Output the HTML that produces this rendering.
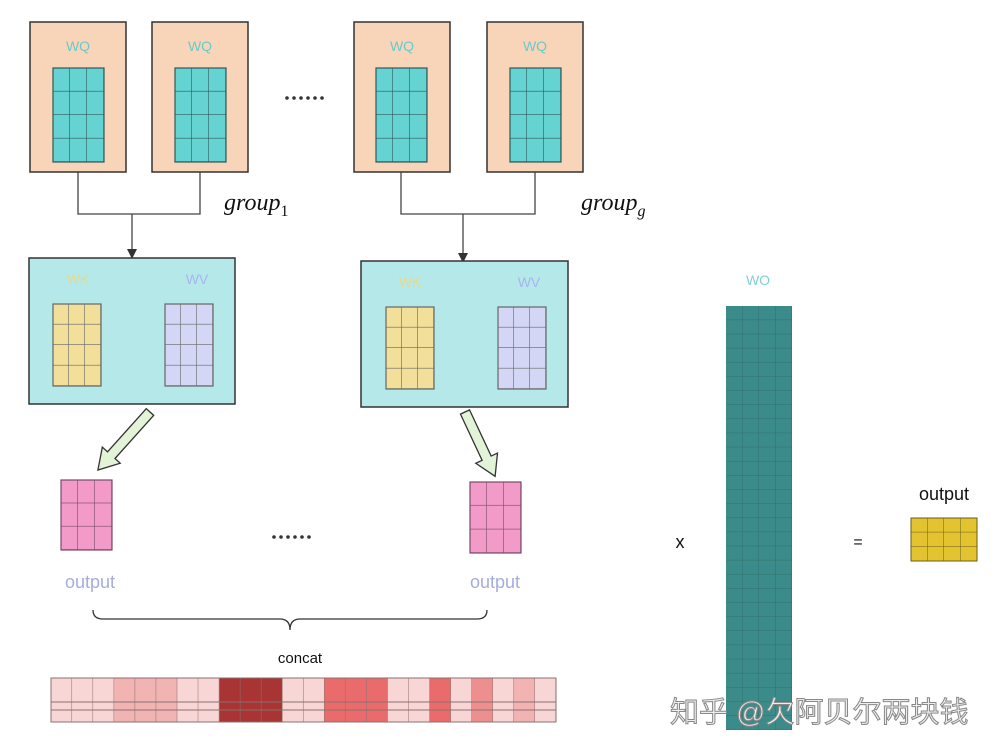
<!DOCTYPE html>
<html><head><meta charset="utf-8"><style>
html,body{margin:0;padding:0;background:#fff;}
svg{display:block;}
text{font-family:"Liberation Sans","Noto Sans CJK SC",sans-serif;}
</style></head><body>
<svg width="998" height="752" viewBox="0 0 998 752" xmlns="http://www.w3.org/2000/svg">
<defs>
<pattern id="pq1" patternUnits="userSpaceOnUse" x="53" y="68" width="17" height="23.5"><path d="M17 0V23.5M0 23.5H17" stroke="#2f5a5a" stroke-width="1.2" fill="none"/></pattern>
<pattern id="pq2" patternUnits="userSpaceOnUse" x="175" y="68" width="17" height="23.5"><path d="M17 0V23.5M0 23.5H17" stroke="#2f5a5a" stroke-width="1.2" fill="none"/></pattern>
<pattern id="pq3" patternUnits="userSpaceOnUse" x="376" y="68" width="17" height="23.5"><path d="M17 0V23.5M0 23.5H17" stroke="#2f5a5a" stroke-width="1.2" fill="none"/></pattern>
<pattern id="pq4" patternUnits="userSpaceOnUse" x="510" y="68" width="17" height="23.5"><path d="M17 0V23.5M0 23.5H17" stroke="#2f5a5a" stroke-width="1.2" fill="none"/></pattern>
<pattern id="pk1" patternUnits="userSpaceOnUse" x="53" y="304" width="16" height="20.5"><path d="M16 0V20.5M0 20.5H16" stroke="#666" stroke-width="1.2" fill="none"/></pattern>
<pattern id="pv1" patternUnits="userSpaceOnUse" x="165" y="304" width="16" height="20.5"><path d="M16 0V20.5M0 20.5H16" stroke="#666" stroke-width="1.2" fill="none"/></pattern>
<pattern id="pk2" patternUnits="userSpaceOnUse" x="386" y="307" width="16" height="20.5"><path d="M16 0V20.5M0 20.5H16" stroke="#666" stroke-width="1.2" fill="none"/></pattern>
<pattern id="pv2" patternUnits="userSpaceOnUse" x="498" y="307" width="16" height="20.5"><path d="M16 0V20.5M0 20.5H16" stroke="#666" stroke-width="1.2" fill="none"/></pattern>
<pattern id="po1" patternUnits="userSpaceOnUse" x="61" y="480" width="17" height="23.3"><path d="M17 0V23.3M0 23.3H17" stroke="#7a4a66" stroke-width="1.2" fill="none"/></pattern>
<pattern id="po2" patternUnits="userSpaceOnUse" x="470" y="482" width="17" height="23.7"><path d="M17 0V23.7M0 23.7H17" stroke="#7a4a66" stroke-width="1.2" fill="none"/></pattern>
<pattern id="pwo" patternUnits="userSpaceOnUse" x="726" y="306" width="16.5" height="14.13"><path d="M16.5 0V14.13M0 14.13H16.5" stroke="#2f6a68" stroke-width="0.8" fill="none"/></pattern>
<pattern id="py" patternUnits="userSpaceOnUse" x="911" y="518" width="16.5" height="14.33"><path d="M16.5 0V14.33M0 14.33H16.5" stroke="#6b5c1a" stroke-width="1" fill="none"/></pattern>
<pattern id="pc" patternUnits="userSpaceOnUse" x="51" y="678" width="21.04" height="44"><path d="M21.04 0V44" stroke="#8a7070" stroke-width="1" fill="none"/></pattern>
</defs>

<g stroke="#333" stroke-width="1.5" fill="#f8d5b8">
<rect x="30" y="22" width="96" height="150"/>
<rect x="152" y="22" width="96" height="150"/>
<rect x="354" y="22" width="96" height="150"/>
<rect x="487" y="22" width="96" height="150"/>
</g>
<g font-size="14" fill="#6cc9c9" text-anchor="middle">
<text x="78" y="51">WQ</text><text x="200" y="51">WQ</text><text x="402" y="51">WQ</text><text x="535" y="51">WQ</text>
</g>
<g fill="#66d3d3"><rect x="53" y="68" width="51" height="94"/><rect x="175" y="68" width="51" height="94"/><rect x="376" y="68" width="51" height="94"/><rect x="510" y="68" width="51" height="94"/></g>
<rect x="53" y="68" width="51" height="94" fill="url(#pq1)" stroke="#2f5a5a" stroke-width="1.2"/>
<rect x="175" y="68" width="51" height="94" fill="url(#pq2)" stroke="#2f5a5a" stroke-width="1.2"/>
<rect x="376" y="68" width="51" height="94" fill="url(#pq3)" stroke="#2f5a5a" stroke-width="1.2"/>
<rect x="510" y="68" width="51" height="94" fill="url(#pq4)" stroke="#2f5a5a" stroke-width="1.2"/>
<g fill="#333"><circle cx="287" cy="98" r="1.8"/><circle cx="294" cy="98" r="1.8"/><circle cx="301" cy="98" r="1.8"/><circle cx="308" cy="98" r="1.8"/><circle cx="315" cy="98" r="1.8"/><circle cx="322" cy="98" r="1.8"/></g>

<g stroke="#444" stroke-width="1.3" fill="none">
<path d="M78 172V214H200V172M132 214V250"/>
<path d="M401 172V214H535V172M463 214V254"/>
</g>
<path d="M127 249L137 249L132 259Z" fill="#333"/>
<path d="M458 253L468 253L463 263Z" fill="#333"/>
<text x="224" y="210" style="font-family:'Liberation Serif',serif;font-style:italic" font-size="24" fill="#111">group<tspan font-size="16" dy="6" style="font-style:normal">1</tspan></text>
<text x="581" y="210" style="font-family:'Liberation Serif',serif;font-style:italic" font-size="24" fill="#111">group<tspan font-size="16" dy="6">g</tspan></text>

<rect x="29" y="258" width="206" height="146" fill="#b5e9e9" stroke="#333" stroke-width="1.5"/>
<rect x="361" y="261" width="207" height="146" fill="#b5e9e9" stroke="#333" stroke-width="1.5"/>
<g font-size="14" text-anchor="middle"><text x="78" y="284" fill="#e7d98a">WK</text><text x="197" y="284" fill="#a8b4ee">WV</text><text x="410" y="287" fill="#e7d98a">WK</text><text x="529" y="287" fill="#a8b4ee">WV</text></g>
<rect x="53" y="304" width="48" height="82" fill="#f1df9a"/><rect x="53" y="304" width="48" height="82" fill="url(#pk1)" stroke="#666" stroke-width="1.2"/>
<rect x="165" y="304" width="48" height="82" fill="#d4d6f6"/><rect x="165" y="304" width="48" height="82" fill="url(#pv1)" stroke="#666" stroke-width="1.2"/>
<rect x="386" y="307" width="48" height="82" fill="#f1df9a"/><rect x="386" y="307" width="48" height="82" fill="url(#pk2)" stroke="#666" stroke-width="1.2"/>
<rect x="498" y="307" width="48" height="82" fill="#d4d6f6"/><rect x="498" y="307" width="48" height="82" fill="url(#pv2)" stroke="#666" stroke-width="1.2"/>

<g fill="#e2f3d8" stroke="#333" stroke-width="1.3">
<polygon transform="translate(150,412) rotate(131.9)" points="0,-5 58,-5 58,-12 78,0 58,12 58,5 0,5"/>
<polygon transform="translate(465,412) rotate(64.9)" points="0,-5 51,-5 51,-12 71,0 51,12 51,5 0,5"/>
</g>

<rect x="61" y="480" width="51" height="70" fill="#f29ac8"/><rect x="61" y="480" width="51" height="70" fill="url(#po1)" stroke="#7a4a66" stroke-width="1.2"/>
<rect x="470" y="482" width="51" height="71" fill="#f29ac8"/><rect x="470" y="482" width="51" height="71" fill="url(#po2)" stroke="#7a4a66" stroke-width="1.2"/>
<g font-size="18" fill="#a6acdf" text-anchor="middle"><text x="90" y="588">output</text><text x="495" y="588">output</text></g>
<g fill="#333"><circle cx="274" cy="537" r="1.8"/><circle cx="281" cy="537" r="1.8"/><circle cx="288" cy="537" r="1.8"/><circle cx="295" cy="537" r="1.8"/><circle cx="302" cy="537" r="1.8"/><circle cx="309" cy="537" r="1.8"/></g>

<path d="M93 610Q93 619 103 619H280Q290 619 290 630Q290 619 300 619H477Q487 619 487 610" fill="none" stroke="#333" stroke-width="1.3"/>
<text x="300" y="663" font-size="15" fill="#111" text-anchor="middle">concat</text>

<g>
<rect x="51" y="678" width="505" height="44" fill="#f9d6d6"/>
<rect x="114.1" y="678" width="63.1" height="44" fill="#f2b3b3"/>
<rect x="219.3" y="678" width="63.1" height="44" fill="#a83434"/>
<rect x="324.5" y="678" width="63.1" height="44" fill="#e96b6b"/>
<rect x="429.8" y="678" width="21" height="44" fill="#e96b6b"/>
<rect x="471.8" y="678" width="21" height="44" fill="#ee8f8f"/>
<rect x="513.9" y="678" width="21" height="44" fill="#f2b3b3"/>
<rect x="51" y="678" width="505" height="44" fill="url(#pc)" stroke="#8a7070" stroke-width="1"/>
<path d="M51 702H556M51 710H556" stroke="#8a7070" stroke-width="1"/>
</g>

<text x="758" y="285" font-size="14" fill="#7fd0d8" text-anchor="middle">WO</text>
<rect x="726" y="306" width="66" height="424" fill="#3a8b89"/>
<rect x="726" y="306" width="66" height="424" fill="url(#pwo)"/>
<text x="680" y="548" font-size="18" fill="#111" text-anchor="middle">x</text>
<text x="858" y="547" font-size="16" fill="#111" text-anchor="middle">=</text>
<text x="944" y="500" font-size="18" fill="#111" text-anchor="middle">output</text>
<rect x="911" y="518" width="66" height="43" fill="#e3c430"/><rect x="911" y="518" width="66" height="43" fill="url(#py)" stroke="#6b5c1a" stroke-width="1"/>

<text x="670" y="722" font-size="29" fill="#eeeeee" stroke="#888" stroke-width="1">知乎 @欠阿贝尔两块钱</text>
</svg>
</body></html>
